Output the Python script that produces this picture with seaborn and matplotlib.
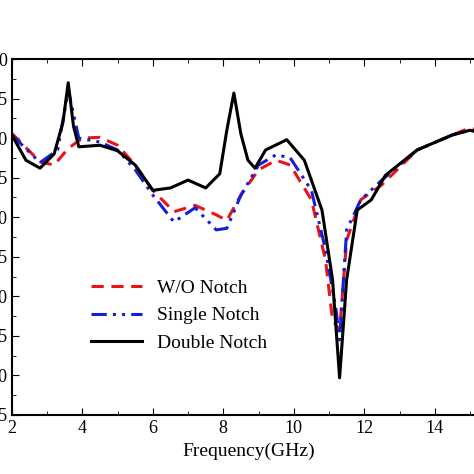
import numpy as np
import pandas as pd
import seaborn as sns
from matplotlib import pyplot as plt

freq_wo = [2, 2.8, 3.2, 3.6, 4, 4.5, 5, 5.5, 6, 6.6, 7.2, 7.8, 8.1, 8.5, 9, 9.5, 9.9, 10.5, 10.9, 11.1, 11.3, 11.5, 11.9, 12.5, 13.5, 14.5, 15, 15.4]
s_wo = [-9.4, -13.0, -13.4, -11.3, -10.0, -9.9, -10.9, -13.4, -16.6, -19.3, -18.5, -19.7, -20.4, -17.2, -14.0, -12.8, -13.4, -17.8, -25.4, -33.0, -34.3, -22.9, -17.8, -15.9, -11.5, -9.6, -8.7, -9.4]

freq_single = [2, 2.8, 3.3, 3.6, 3.9, 4.5, 5, 5.5, 6, 6.6, 7.2, 7.8, 8.1, 8.5, 9, 9.5, 9.9, 10.5, 10.9, 11.2, 11.3, 11.5, 11.9, 12.5, 13.5, 14.5, 15, 15.4]
s_single = [-9.6, -13.1, -11.5, -3.9, -10.0, -10.5, -11.5, -14.0, -17.2, -20.6, -18.8, -21.6, -21.4, -17.2, -13.4, -12.1, -12.5, -16.6, -24.1, -31.7, -35.5, -21.6, -17.8, -15.3, -11.5, -9.6, -9.0, -9.4]

freq_double = [2, 2.4, 2.8, 3.2, 3.45, 3.6, 3.75, 3.9, 4.5, 5.0, 5.5, 6, 6.5, 7, 7.5, 7.9, 8.1, 8.3, 8.5, 8.7, 8.9, 9.2, 9.8, 10.3, 10.8, 11.1, 11.3, 11.5, 11.8, 12.2, 12.6, 13.5, 14.5, 15, 15.4]
s_double = [-9.6, -12.8, -13.8, -12.0, -8.0, -3.0, -8.5, -11.1, -10.9, -11.6, -13.4, -16.6, -16.3, -15.3, -16.3, -14.5, -9.0, -4.3, -9.5, -12.8, -13.8, -11.5, -10.2, -12.8, -19.1, -27.9, -40.3, -27.9, -19.1, -17.8, -14.7, -11.5, -9.6, -9.0, -9.4]

plt.rcParams['font.family'] = ['Liberation Serif', 'DejaVu Serif']
fig = plt.figure(figsize=(4.74, 4.74), dpi=100)
ax = fig.add_axes([0.025, 0.1245, 1.0, 0.751])

sns.lineplot(x=freq_wo, y=s_wo, ax=ax, color='#e8141a', lw=2.2, ls=(0, (4, 2.5)), label='W/O Notch', sort=False)
sns.lineplot(x=freq_single, y=s_single, ax=ax, color='#1420d8', lw=2.2, ls=(0, (5, 2, 1, 2, 1, 2)), label='Single Notch', sort=False)
sns.lineplot(x=freq_double, y=s_double, ax=ax, color='black', lw=2.2, label='Double Notch', sort=False)

ax.set_xlim(2, 15.45)
ax.set_ylim(-45, 0)
ax.set_xticks([2, 4, 6, 8, 10, 12, 14])
ax.set_yticks(np.arange(-45, 1, 5))
ax.set_xticks(np.arange(3, 16, 2), minor=True)
ax.set_yticks(np.arange(-42.5, 0, 5), minor=True)
ax.tick_params(direction='in', which='both', top=True, labelsize=13)
ax.tick_params(which='major', length=5)
ax.tick_params(which='minor', length=3)
for sp in ax.spines.values():
    sp.set_linewidth(1.5)
ax.set_xlabel('Frequency(GHz)', fontsize=14)
ax.legend(loc='upper left', bbox_to_anchor=(0.13, 0.43), frameon=False, fontsize=14, handlelength=2.6)

fig.savefig('out.png', dpi=100)
